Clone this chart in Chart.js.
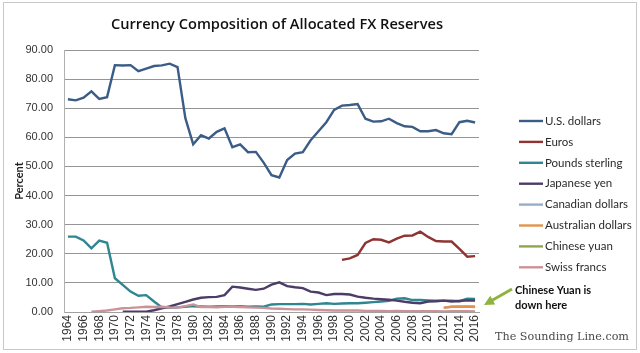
<!DOCTYPE html>
<html>
<head>
<meta charset="utf-8">
<script src="https://cdn.jsdelivr.net/npm/chart.js@4.4.1/dist/chart.umd.min.js"></script>
<style>
html,body{margin:0;padding:0;background:#fff;}
canvas{display:block;}
</style>
</head>
<body>
<canvas id="c" width="640" height="353"></canvas>
<script>
// ---- DATA ----
const years = [];
for (let y = 1964; y <= 2016; y++) years.push(String(y));

const usDollars = [73.1,72.7,73.6,75.8,73.2,73.8,84.8,84.7,84.8,82.7,83.6,84.5,84.7,85.3,84.1,66.6,57.6,60.7,59.6,61.9,63.1,56.6,57.6,54.9,55.0,51.3,47.0,46.2,52.2,54.4,54.9,59.0,62.1,65.2,69.4,70.9,71.1,71.4,66.4,65.4,65.5,66.4,64.9,63.8,63.6,62.1,62.1,62.5,61.4,61.1,65.2,65.7,65.1];

const euros = [null,null,null,null,null,null,null,null,null,null,null,null,null,null,null,null,null,null,null,null,null,null,null,null,null,null,null,null,null,null,null,null,null,null,null,
  17.9,18.4,19.6,23.7,25.0,24.8,23.9,25.2,26.2,26.3,27.6,25.8,24.4,24.2,24.2,21.7,19.0,19.2];

const poundsSterling = [25.9,25.9,24.6,21.9,24.5,23.8,11.6,9.3,7.0,5.6,5.8,3.6,1.6,1.5,1.6,1.8,2.0,1.9,1.8,1.9,2.0,1.9,2.0,1.8,1.9,1.8,2.6,2.7,2.7,2.7,2.8,2.6,2.8,3.0,2.8,2.9,3.0,3.0,3.2,3.4,3.6,3.8,4.6,4.7,4.1,4.1,4.0,3.9,3.9,3.9,3.7,4.6,4.5];

const japaneseYen = [null,null,null,null,null,null,null,0.1,0.1,0.1,0.1,0.6,1.3,1.9,2.7,3.5,4.3,4.9,5.1,5.2,5.8,8.7,8.4,8.0,7.6,8.0,9.4,10.2,8.9,8.5,8.2,7.0,6.7,5.8,6.2,6.2,6.0,5.3,4.9,4.6,4.4,4.2,3.9,3.5,3.2,3.0,3.6,3.7,3.9,3.6,3.8,4.0,3.9];

const canadianDollars = [null,null,null,null,null,null,null,null,null,null,null,null,null,null,null,null,null,null,null,null,null,null,null,null,null,null,null,null,null,null,null,null,null,null,null,null,null,null,null,null,null,null,null,null,null,null,null,null,1.4,1.8,1.9,1.8,1.9];

const australianDollars = [null,null,null,null,null,null,null,null,null,null,null,null,null,null,null,null,null,null,null,null,null,null,null,null,null,null,null,null,null,null,null,null,null,null,null,null,null,null,null,null,null,null,null,null,null,null,null,null,1.5,1.8,1.8,1.9,1.7];

const chineseYuan = [null,null,null,null,null,null,null,null,null,null,null,null,null,null,null,null,null,null,null,null,null,null,null,null,null,null,null,null,null,null,null,null,null,null,null,null,null,null,null,null,null,null,null,null,null,null,null,null,null,null,null,null,1.1];

const swissFrancs = [null,null,null,0.1,0.3,0.5,0.9,1.3,1.4,1.6,1.8,1.7,1.8,1.6,1.5,2.0,2.6,1.7,1.7,1.6,1.8,1.8,1.7,1.6,1.5,1.4,1.2,1.1,1.0,0.9,0.9,0.8,0.7,0.6,0.5,0.5,0.5,0.5,0.4,0.4,0.4,0.3,0.4,0.3,0.3,0.3,0.3,0.3,0.2,0.3,0.3,0.3,0.2];

const seriesNames = ["U.S. dollars","Euros","Pounds sterling","Japanese yen","Canadian dollars","Australian dollars","Chinese yuan","Swiss francs"];
const seriesData = [usDollars, euros, poundsSterling, japaneseYen, canadianDollars, australianDollars, chineseYuan, swissFrancs];
const seriesColors = ["#3b5c86","#8e3533","#2f8590","#4c3c68","#98aec8","#e0944c","#8fa651","#cc9298"];

const yTicks = [0,10,20,30,40,50,60,70,80,90];
const titleText = "Currency Composition of Allocated FX Reserves";

// ---- CHART ----
const datasets = seriesNames.map((n, i) => ({
  label: n,
  data: seriesData[i],
  borderColor: seriesColors[i],
  backgroundColor: seriesColors[i],
  borderWidth: 2.4,
  pointRadius: 0,
  pointHoverRadius: 0,
  tension: 0,
  fill: false,
  order: seriesNames.length - i
}));

const decor = {
  id: 'decor',
  beforeDraw(chart) {
    const ctx = chart.ctx;
    ctx.save();
    ctx.fillStyle = '#ffffff';
    ctx.fillRect(0, 0, chart.width, chart.height);
    ctx.strokeStyle = '#c9c9c9';
    ctx.lineWidth = 1;
    ctx.strokeRect(3.5, 2.5, 633, 347);
    ctx.restore();
  },
  afterDraw(chart) {
    const ctx = chart.ctx;
    ctx.save();
    // title
    let fs = 20;
    ctx.font = '600 ' + fs + 'px "Open Sans"';
    const w = ctx.measureText(titleText).width;
    fs = fs * 332 / w;
    ctx.font = '600 ' + fs.toFixed(2) + 'px "Open Sans"';
    ctx.fillStyle = '#111';
    ctx.textAlign = 'center';
    ctx.textBaseline = 'middle';
    ctx.fillText(titleText, 277, 25);

    // y axis title
    ctx.save();
    ctx.translate(19, 181);
    ctx.rotate(-Math.PI / 2);
    ctx.font = 'bold 11px Lato';
    ctx.fillStyle = '#222';
    ctx.textAlign = 'center';
    ctx.textBaseline = 'middle';
    ctx.fillText('Percent', 0, 0);
    ctx.restore();

    // legend
    chart.data.datasets.forEach((ds, i) => {
      const y = 121 + i * 20.9;
      ctx.strokeStyle = ds.borderColor;
      ctx.lineWidth = 2.4;
      ctx.beginPath();
      ctx.moveTo(519, y);
      ctx.lineTo(543, y);
      ctx.stroke();
      ctx.font = '11.5px Lato';
      ctx.fillStyle = '#2a2a2a';
      ctx.textAlign = 'left';
      ctx.textBaseline = 'middle';
      ctx.fillText(ds.label, 545, y);
    });

    // annotation
    ctx.font = 'bold 11px Lato';
    ctx.fillStyle = '#111';
    ctx.textAlign = 'left';
    ctx.textBaseline = 'middle';
    ctx.fillText('Chinese Yuan is', 515, 290);
    ctx.fillText('down here', 515, 305);

    // arrow
    ctx.strokeStyle = '#8db43f';
    ctx.fillStyle = '#8db43f';
    ctx.lineWidth = 3;
    const x1 = 512, y1 = 289, x2 = 484, y2 = 305;
    const ang = Math.atan2(y2 - y1, x2 - x1);
    ctx.beginPath();
    ctx.moveTo(x1, y1);
    ctx.lineTo(x2 - 6 * Math.cos(ang), y2 - 6 * Math.sin(ang));
    ctx.stroke();
    ctx.beginPath();
    ctx.moveTo(x2, y2);
    ctx.lineTo(x2 - 10 * Math.cos(ang) + 5 * Math.sin(ang), y2 - 10 * Math.sin(ang) - 5 * Math.cos(ang));
    ctx.lineTo(x2 - 10 * Math.cos(ang) - 5 * Math.sin(ang), y2 - 10 * Math.sin(ang) + 5 * Math.cos(ang));
    ctx.closePath();
    ctx.fill();

    // watermark
    const wm = 'The Sounding Line.com';
    let ws = 16;
    ctx.font = ws + 'px "DejaVu Serif"';
    const ww = ctx.measureText(wm).width;
    ws = ws * 134 / ww;
    ctx.font = ws.toFixed(2) + 'px "DejaVu Serif"';
    ctx.fillStyle = '#4a4a4a';
    ctx.textAlign = 'left';
    ctx.textBaseline = 'middle';
    ctx.fillText(wm, 495, 337);
    ctx.restore();
  }
};

new Chart(document.getElementById('c'), {
  type: 'line',
  data: { labels: years, datasets },
  options: {
    responsive: false,
    animation: false,
    devicePixelRatio: 1,
    layout: { padding: { left: 0, top: 50, right: 161, bottom: 0 } },
    plugins: { legend: { display: false }, tooltip: { enabled: false }, title: { display: false } },
    scales: {
      x: {
        offset: true,
        grid: { display: false, drawTicks: false },
        border: { display: true, color: '#a0a0a0' },
        afterFit(s) { s.height = 41; },
        ticks: {
          autoSkip: false,
          minRotation: 90,
          maxRotation: 90,
          padding: 3,
          color: '#333',
          font: { family: 'Liberation Sans', size: 12 },
          callback(v, i) { return i % 2 === 0 ? this.getLabelForValue(v) : ''; }
        }
      },
      y: {
        min: 0,
        max: 90,
        afterFit(s) { s.width = 64; },
        afterBuildTicks(s) { s.ticks = yTicks.map(v => ({ value: v })); },
        grid: { color: '#959595', lineWidth: 1, drawTicks: false },
        border: { display: true, color: '#b0b0b0' },
        ticks: {
          padding: 11,
          color: '#333',
          font: { family: 'Liberation Sans', size: 11 },
          callback(v) { return Number(v).toFixed(2); }
        }
      }
    }
  },
  plugins: [decor]
});
</script>
</body>
</html>
